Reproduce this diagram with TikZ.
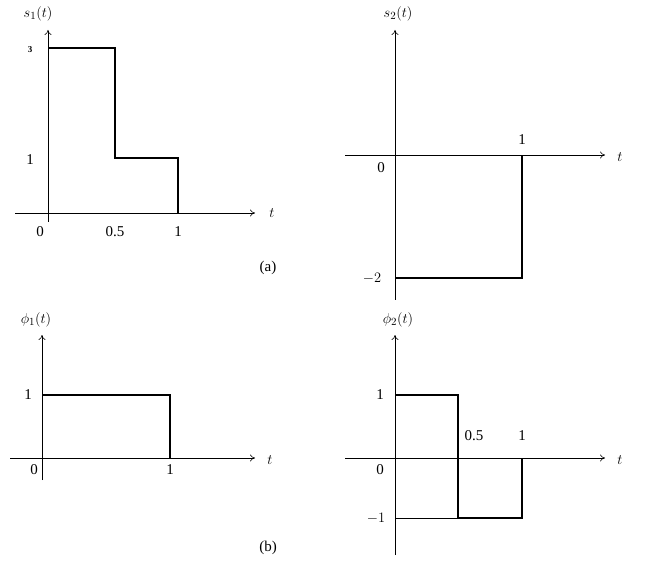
\documentclass[tikz,border=0pt]{standalone}
\usepackage{fontspec}
\setmainfont{Liberation Serif}
\usetikzlibrary{arrows.meta}
\begin{document}
\begin{tikzpicture}[x=1pt,y=-1pt,
  ax/.style={-{To[length=5pt,width=7pt]},line width=0.6pt},
  lab/.style={font=\fontsize{15}{17}\selectfont}]
\useasboundingbox (0,0) rectangle (645,585);
% panel s1
\draw[ax] (15,213) -- (255,213);
\draw[ax] (48,222) -- (48,30);
\node[lab] (t1) at (272,213) {$t$};
\node[lab] (s1) at (38,14) {$s_1(t)$};
\node[font=\bfseries\small] (l3) at (30,50) {3};
\node[lab] (l1a) at (30,160) {1};
\node[lab] (z1) at (40,232) {0};
\node[lab] (h1) at (115,232) {0.5};
\node[lab] (o1) at (178,232) {1};
\node[lab] (a) at (268,268) {(a)};
\draw[line width=1.6pt] (48,48) -- (115,48) -- (115,158) -- (178,158) -- (178,213);
% panel s2
\draw[ax] (345,155) -- (605,155);
\draw[ax] (395,300) -- (395,30);
\node[lab] (t2) at (620,157) {$t$};
\node[lab] (s2) at (398,14) {$s_2(t)$};
\node[lab] (z2) at (381,168) {0};
\node[lab] (o2) at (522,140) {1};
\node[lab] (m2) at (372,278) {$-2$};
\draw[line width=1.1pt] (395,278) -- (522,278) -- (522,155);
% panel phi1
\draw[ax] (10,458) -- (255,458);
\draw[ax] (42,480) -- (42,335);
\node[lab] (t3) at (270,460) {$t$};
\node[lab] (p1) at (36,320) {$\phi_1(t)$};
\node[lab] (l13) at (28,395) {1};
\node[lab] (z3) at (34,470) {0};
\node[lab] (o3) at (170,470) {1};
\node[lab] (b) at (268,548) {(b)};
\draw[line width=1.1pt] (42,395) -- (170,395) -- (170,458);
% panel phi2
\draw[ax] (345,458) -- (605,458);
\draw[ax] (395,555) -- (395,335);
\node[lab] (t4) at (620,460) {$t$};
\node[lab] (p2) at (398,320) {$\phi_2(t)$};
\node[lab] (l14) at (380,395) {1};
\node[lab] (z4) at (380,470) {0};
\node[lab] (m4) at (376,518) {$-1$};
\node[lab] (h4) at (474,436) {0.5};
\node[lab] (o4) at (522,436) {1};
\draw[line width=0.5pt] (395,518) -- (458,518);
\draw[line width=1.1pt] (395,395) -- (458,395) -- (458,518) -- (522,518) -- (522,458);
\end{tikzpicture}
\end{document}
